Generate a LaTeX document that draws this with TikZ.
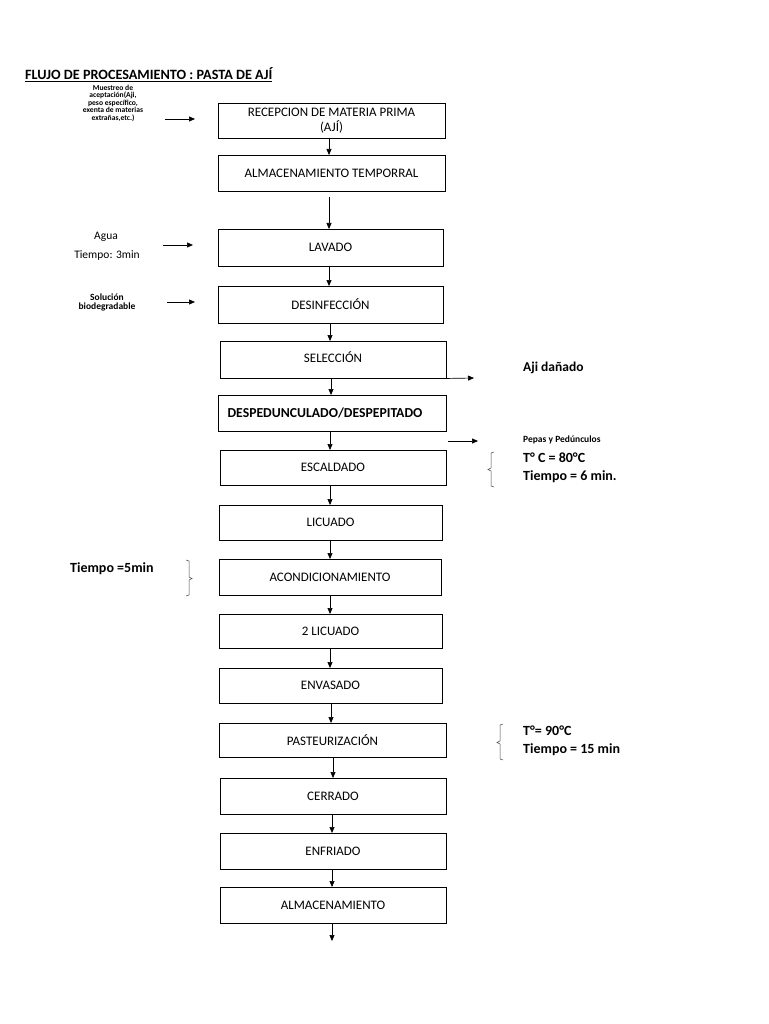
\documentclass[tikz,border=0pt]{standalone}
\usepackage{fontspec}
\setmainfont{Carlito}
\usetikzlibrary{arrows.meta}
\begin{document}
\begin{tikzpicture}[x=1pt,y=-1pt,
  stepbox/.style={draw,line width=0.9pt,minimum width=226pt,minimum height=36pt,inner sep=0pt,font=\fontsize{13}{15}\selectfont,align=center},
  arr/.style={line width=0.7pt,-{Triangle[length=6pt,width=5pt]}},
  note/.style={inner sep=0pt,align=center},
  side/.style={anchor=west,inner sep=0pt,font=\bfseries\fontsize{14}{16}\selectfont},
  brace/.style={line width=0.5pt,draw=black!70}]
\useasboundingbox (0,0) rectangle (768,1024);
\fill[white] (0,0) rectangle (768,1024);
\node[anchor=west,inner sep=0pt,font=\bfseries\fontsize{14.2}{16}\selectfont] (title) at (25,75) {\underline{FLUJO DE PROCESAMIENTO : PASTA DE AJÍ}};

\node[stepbox,minimum width=227pt,minimum height=35pt] (b1) at (331.5,120.5) {RECEPCION DE MATERIA PRIMA\\(AJÍ)};
\node[stepbox,minimum width=227pt] (b2) at (331.5,173) {ALMACENAMIENTO TEMPORRAL};
\node[stepbox,minimum width=225pt,minimum height=37pt] (b3) at (330.5,247.5) {LAVADO};
\node[stepbox,minimum width=225pt,minimum height=37pt] (b4) at (330.5,304.5) {DESINFECCIÓN};
\node[stepbox,minimum height=37pt] (b5) at (333,359.5) {\raisebox{5pt}{SELECCIÓN}};
\node[stepbox,minimum width=228pt,font=\bfseries\fontsize{13.7}{15}\selectfont] (b6) at (332,413) {DESPEDUNCULADO/DESPEPITADO\hspace*{14pt}};
\node[stepbox,minimum height=35pt] (b7) at (333,467.5) {ESCALDADO};
\node[stepbox,minimum width=223pt,minimum height=35pt] (b8) at (330.5,522.5) {LICUADO};
\node[stepbox,minimum width=222pt] (b9) at (330,577) {ACONDICIONAMIENTO};
\node[stepbox,minimum width=223pt,minimum height=34pt] (b10) at (330.5,631) {2 LICUADO};
\node[stepbox,minimum width=223pt,minimum height=35pt] (b11) at (330.5,685.5) {ENVASADO};
\node[stepbox,minimum width=227pt,minimum height=34pt] (b12) at (332.5,740) {PASTEURIZACIÓN};
\node[stepbox] (b13) at (333,796) {CERRADO};
\node[stepbox] (b14) at (333,851) {ENFRIADO};
\node[stepbox] (b15) at (333,905) {ALMACENAMIENTO};

% vertical connectors
\draw[arr] (329,138) -- (329,155);
\draw[arr] (329,197) -- (329,229);
\draw[arr] (329,266) -- (329,286);
\draw[arr] (330,323) -- (330,341);
\draw[arr] (331,378) -- (331,395);
\draw[arr] (330,431) -- (330,450);
\draw[arr] (330,485) -- (330,505);
\draw[arr] (330,540) -- (330,559);
\draw[arr] (330,595) -- (330,614);
\draw[arr] (330,648) -- (330,668);
\draw[arr] (331,703) -- (331,723);
\draw[arr] (333,757) -- (333,778);
\draw[arr] (332,814) -- (332,833);
\draw[arr] (332,869) -- (332,887);
\coordinate (end) at (332,941);
\draw[arr] (b15.south -| end) -- (end);

% left inputs
\node[note,font=\bfseries\fontsize{7.6}{7.5}\selectfont] (n1) at (113,103) {Muestreo de\\aceptación(Aji,\\peso específico,\\exenta de materias\\extrañas,etc.)};
\coordinate (n1e) at (195,119);
\draw[arr] (165,119) -- (n1e);
\node[note,font=\fontsize{11.5}{13}\selectfont] (n2) at (106,237) {Agua};
\node[note,font=\fontsize{11.5}{13}\selectfont] (n3) at (107,255) {Tiempo: 3min};
\coordinate (n2e) at (193,245);
\draw[arr] (163,245) -- (n2e);
\node[note,font=\bfseries\fontsize{9.5}{9}\selectfont] (n4) at (107,302.5) {Solución\\biodegradable};
\coordinate (n4e) at (195,302);
\draw[arr] (167,302) -- (n4e);

% right outputs
\coordinate (o1) at (474,378);
\draw[arr] (b5.south east) -- (o1);
\node[side,font=\bfseries\fontsize{13.5}{15}\selectfont] (o1t) at (523,368) {Aji dañado};
\coordinate (o2) at (478,441);
\draw[arr] (448,441) -- (o2);
\node[side,font=\bfseries\fontsize{9.5}{10}\selectfont] (o2t) at (523,440) {Pepas y Pedúnculos};
\node[side] (c1) at (523,458) {T° C = 80°C};
\node[side] (c2) at (523,477) {Tiempo = 6 min.};
\draw[brace] (494,452) -- (491,453) -- (491,468) -- (488,469.5) -- (491,471) -- (491,486) -- (494,487);

\node[side] (c3) at (523,731) {T°= 90°C};
\node[side] (c4) at (523,750) {Tiempo = 15 min};
\draw[brace] (503,724) -- (500,725) -- (500,741) -- (497,742.5) -- (500,744) -- (500,759) -- (503,760);

\node[side] (c5) at (70,569) {Tiempo =5min};
\draw[brace] (186,560) -- (189,561) -- (189,577) -- (192,578.5) -- (189,580) -- (189,595) -- (186,596);
\end{tikzpicture}
\end{document}
